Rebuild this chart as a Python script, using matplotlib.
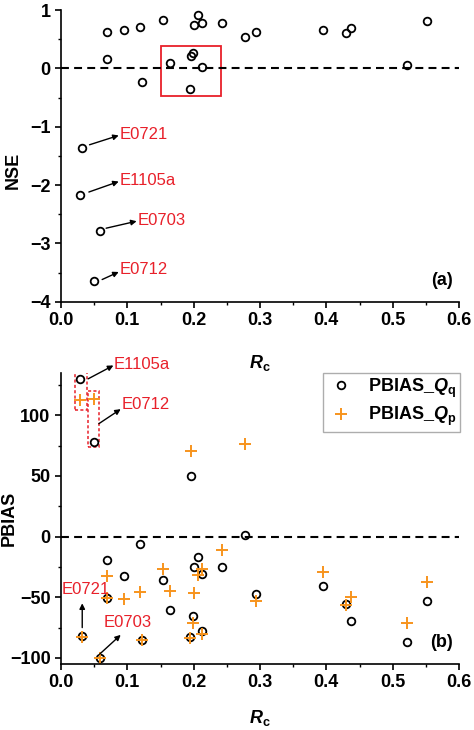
import numpy as np
import matplotlib
matplotlib.use('Agg')
import matplotlib.pyplot as plt
from matplotlib.patches import Rectangle
from matplotlib.ticker import MultipleLocator, FormatStrFormatter

plt.rcParams['font.family'] = 'Liberation Sans'
plt.rcParams['font.weight'] = 'bold'
plt.rcParams['mathtext.fontset'] = 'custom'
plt.rcParams['mathtext.rm'] = 'Liberation Sans:bold'
plt.rcParams['mathtext.bf'] = 'Liberation Sans:bold'
plt.rcParams['mathtext.it'] = 'Liberation Sans:italic:bold'
plt.rcParams['mathtext.bfit'] = 'Liberation Sans:italic:bold'

# data (one entry per event)
rc = [0.070, 0.070, 0.095, 0.119, 0.122, 0.154, 0.165, 0.194, 0.196, 0.199, 0.201, 0.207, 0.213,
      0.212, 0.242, 0.278, 0.294, 0.395, 0.430, 0.437, 0.522, 0.551, 0.032, 0.029, 0.059, 0.050]
nse = [0.62, 0.16, 0.65, 0.71, -0.23, 0.83, 0.10, -0.35, 0.21, 0.26, 0.75, 0.91, 0.78,
       0.03, 0.78, 0.53, 0.63, 0.65, 0.60, 0.70, 0.06, 0.81, -1.36, -2.17, -2.78, -3.65]
pbias_q = [-19.4, -50.8, -32.8, -6.3, -85.0, -35.8, -60.7, -82.5, 50.0, -65.6, -24.9, -16.7, -30.7,
           -77.4, -24.9, 1.0, -47.5, -40.7, -55.7, -69.7, -86.9, -52.8, -82.3, 130.0, -99.8, 78.1]
pbias_p = [-32.5, -50.6, -51.1, -45.7, -85.0, -27.0, -44.6, -83.5, 70.7, -71.3, -46.7, -32.0, -26.8,
           -80.3, -10.7, 75.9, -53.3, -29.5, -56.0, -49.5, -70.8, -37.5, -82.5, 112.3, -100.0, 113.6]

red = '#E8202A'
orange = '#F7941D'

fig = plt.figure(figsize=(4.74, 7.30), dpi=100)
ax1 = fig.add_axes([0.1287, 0.5867, 0.8397, 0.3996])
ax2 = fig.add_axes([0.1287, 0.0904, 0.8397, 0.3990])

def style(ax):
    for s in ['top', 'right']:
        ax.spines[s].set_visible(False)
    for s in ['left', 'bottom']:
        ax.spines[s].set_linewidth(1.2)
    ax.tick_params(which='major', direction='out', length=4, width=1.2, labelsize=13)
    ax.tick_params(which='minor', direction='out', length=2.5, width=1.0)
    ax.set_xlim(0, 0.6)
    ax.xaxis.set_major_locator(MultipleLocator(0.1))
    ax.xaxis.set_minor_locator(MultipleLocator(0.05))
    ax.xaxis.set_major_formatter(FormatStrFormatter('%.1f'))
    for t in ax.get_xticklabels() + ax.get_yticklabels():
        t.set_fontweight('bold')

arrow = dict(arrowstyle='-|>', color='black', lw=1.0, mutation_scale=8, shrinkA=0, shrinkB=0)

def label(ax, name, tail, head, pos):
    # arrow from the point towards the label, head at the label
    ax.annotate('', xy=head, xytext=tail, arrowprops=arrow, annotation_clip=False)
    ax.text(pos[0], pos[1], name, color=red, fontsize=12, fontweight='normal',
            va='center', ha='left', clip_on=False)

# (a) NSE
ax1.plot(rc, nse, 'o', mfc='none', mec='black', ms=5.5, mew=1.3, clip_on=False)
ax1.axhline(0, color='black', ls='--', lw=1.5, dashes=(3.8, 2.5))
ax1.set_ylim(-4, 1)
ax1.yaxis.set_major_locator(MultipleLocator(1))
ax1.yaxis.set_minor_locator(MultipleLocator(0.5))
style(ax1)
ax1.add_patch(Rectangle((0.151, -0.48), 0.090, 0.86, fill=False, ec=red, lw=1.3))
label(ax1, 'E0721', (0.043, -1.31), (0.087, -1.15), (0.088, -1.13))
label(ax1, 'E1105a', (0.042, -2.12), (0.087, -1.94), (0.089, -1.92))
label(ax1, 'E0703', (0.068, -2.74), (0.114, -2.62), (0.116, -2.60))
label(ax1, 'E0712', (0.062, -3.62), (0.087, -3.49), (0.089, -3.45))
ax1.text(0.59, -3.63, '(a)', fontsize=13, fontweight='bold', ha='right', va='center')
ax1.set_ylabel('NSE', fontsize=13, fontweight='bold')
ax1.yaxis.set_label_coords(-0.098, 0.45)
ax1.set_xlabel(r'$\mathbfit{R}_\mathbf{c}$', fontsize=13, labelpad=17)

# (b) PBIAS
ax2.plot(rc, pbias_q, 'o', mfc='none', mec='black', ms=5.5, mew=1.3, label=r'PBIAS_$\mathbfit{Q}_\mathbf{q}$')
ax2.plot(rc, pbias_p, '+', color=orange, ms=8, mew=1.4, label=r'PBIAS_$\mathbfit{Q}_\mathbf{p}$')
ax2.axhline(0, color='black', ls='--', lw=1.5, dashes=(3.8, 2.5))
ax2.set_ylim(-105, 135)
ax2.yaxis.set_major_locator(MultipleLocator(50))
ax2.yaxis.set_minor_locator(MultipleLocator(25))
style(ax2)
ax2.add_patch(Rectangle((0.0216, 104.5), 0.0171, 31.0, fill=False, ec=red, lw=1.1, ls=(0, (2, 1.5))))
ax2.add_patch(Rectangle((0.041, 73.4), 0.017, 46.6, fill=False, ec=red, lw=1.1, ls=(0, (2, 1.5))))
label(ax2, 'E1105a', (0.041, 130), (0.079, 141), (0.080, 142))
label(ax2, 'E0712', (0.057, 93), (0.090, 105), (0.091, 109))
label(ax2, 'E0721', (0.032, -75), (0.032, -55), (0.001, -44))
label(ax2, 'E0703', (0.058, -97), (0.090, -81), (0.064, -71))
ax2.text(0.59, -87, '(b)', fontsize=13, fontweight='bold', ha='right', va='center')
ax2.set_ylabel('PBIAS', fontsize=13, fontweight='bold')
ax2.yaxis.set_label_coords(-0.108, 0.5)
ax2.set_xlabel(r'$\mathbfit{R}_\mathbf{c}$', fontsize=13, labelpad=12)
leg = ax2.legend(loc='upper right', bbox_to_anchor=(1.003, 1.0), borderaxespad=0, fancybox=False,
                 edgecolor='#999999', prop={'size': 13, 'weight': 'bold'}, handletextpad=0.7,
                 borderpad=0.2, labelspacing=0.3, handlelength=1.6)
leg.get_frame().set_linewidth(1.0)

fig.savefig('out.png', dpi=100)
